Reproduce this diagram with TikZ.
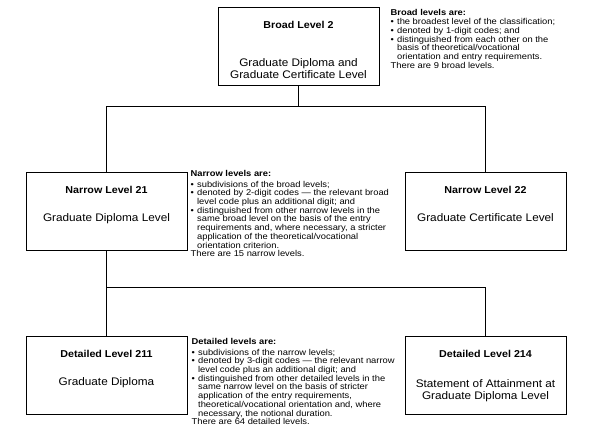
\documentclass[tikz,border=0pt]{standalone}
\usepackage{fontspec}
\setmainfont{Liberation Sans}
\newfontfamily\boxfont[FakeStretch=1.07]{Liberation Sans}
\newfontfamily\notefont[FakeStretch=1.1]{Liberation Sans}
\usetikzlibrary{positioning}
\newcommand{\bul}{\makebox[6.5pt][l]{\textbullet}}
\newcommand{\ind}{\hspace*{6.5pt}}
\begin{document}
\begin{tikzpicture}[x=1pt,y=-1pt,
    level/.style={draw,line width=0.9pt,minimum width=161pt,minimum height=78pt,inner sep=0pt},
    title/.style={font=\boxfont\bfseries\fontsize{10}{12}\selectfont,inner sep=0pt,text height=7.5pt,text depth=0pt},
    desc/.style={font=\boxfont\fontsize{11}{12.5}\selectfont,align=center,inner sep=0pt},
    note/.style={font=\notefont\fontsize{8.5}{8.7}\selectfont,align=left,inner sep=0pt,anchor=north west},
    link/.style={line width=0.9pt},
  ]
  \useasboundingbox (0,0) rectangle (592,441);
  \node[level] (B2) at (298.5,46) {};
  \node[level] (N21) at (106.5,211) {};
  \node[level] (N22) at (485.5,211) {};
  \node[level] (D211) at (106.5,375.5) {};
  \node[level] (D214) at (485.5,375) {};
  \node[title,below=14pt of B2.north] (B2t) {Broad Level 2};
  \node[desc,below=29.5pt of B2t] (B2d) {Graduate Diploma and\\Graduate Certificate Level};
  \node[title,below=14pt of N21.north] (N21t) {Narrow Level 21};
  \node[desc,below=19.5pt of N21t] (N21d) {Graduate Diploma Level};
  \node[title,below=14pt of N22.north] (N22t) {Narrow Level 22};
  \node[desc,below=19.5pt of N22t] (N22d) {Graduate Certificate Level};
  \node[title,below=14pt of D211.north] (D211t) {Detailed Level 211};
  \node[desc,below=19.5pt of D211t] (D211d) {Graduate Diploma};
  \node[title,below=14pt of D214.north] (D214t) {Detailed Level 214};
  \node[desc,below=21.5pt of D214t] (D214d) {Statement of Attainment at\\Graduate Diploma Level};
  \draw[link] (B2.south) -- ++(0,21) coordinate (j1);
  \draw[link] (N21.north) |- (j1) -| (N22.north);
  \draw[link] (N21.south) -- (D211.north);
  \draw[link] (N21.south) -- ++(0,37) coordinate (j2) -| (D214.north);
  \node[note] (B2n) at ([xshift=11pt,yshift=-2.5pt]B2.north east) {%
    \textbf{Broad levels are:}\\[0.5pt]
    \bul the broadest level of the classification;\\
    \bul denoted by 1-digit codes; and\\
    \bul distinguished from each other on the\\
    \ind basis of theoretical/vocational\\
    \ind orientation and entry requirements.\\
    There are 9 broad levels.};
  \node[note] (N21n) at ([xshift=3pt,yshift=1pt]N21.north east) {%
    \textbf{Narrow levels are:}\\[1.5pt]
    \bul subdivisions of the broad levels;\\
    \bul denoted by 2-digit codes — the relevant broad\\
    \ind level code plus an additional digit; and\\
    \bul distinguished from other narrow levels in the\\
    \ind same broad level on the basis of the entry\\
    \ind requirements and, where necessary, a stricter\\
    \ind application of the theoretical/vocational\\
    \ind orientation criterion.\\
    There are 15 narrow levels.};
  \node[note] (D211n) at ([xshift=4pt,yshift=-2.5pt]D211.north east) {%
    \textbf{Detailed levels are:}\\[1.5pt]
    \bul subdivisions of the narrow levels;\\
    \bul denoted by 3-digit codes — the relevant narrow\\
    \ind level code plus an additional digit; and\\
    \bul distinguished from other detailed levels in the\\
    \ind same narrow level on the basis of stricter\\
    \ind application of the entry requirements,\\
    \ind theoretical/vocational orientation and, where\\
    \ind necessary, the notional duration.\\
    There are 64 detailed levels.};
\end{tikzpicture}
\end{document}
